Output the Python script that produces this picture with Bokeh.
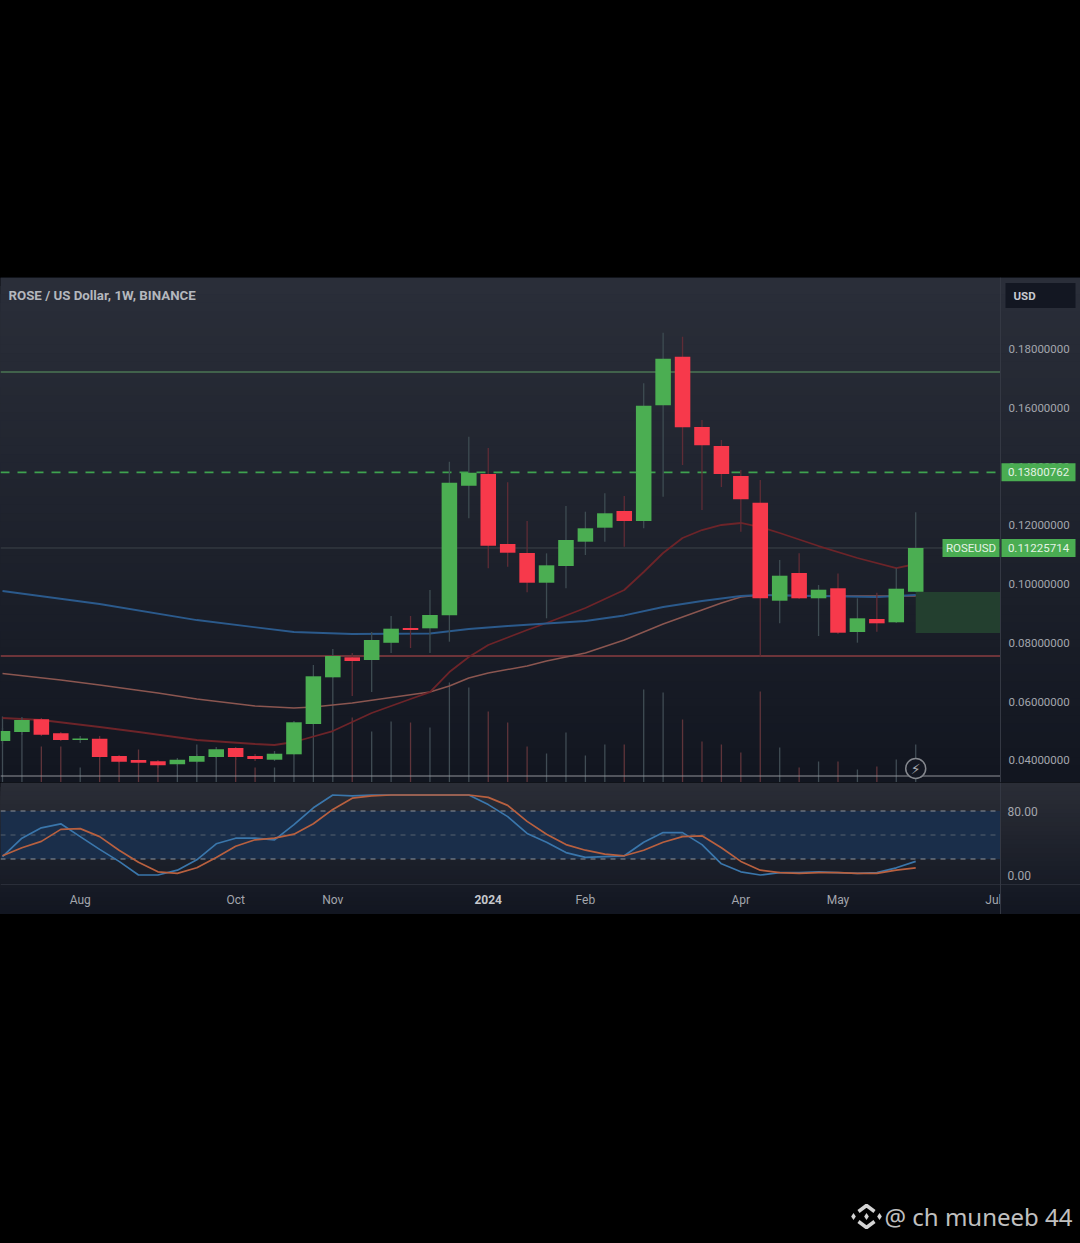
from bokeh.plotting import figure
from bokeh.models import (ColumnDataSource, FixedTicker, LinearAxis, NumeralTickFormatter,
                          Range1d, Spacer, Label)
from bokeh.layouts import column
from bokeh.embed import file_html
from bokeh.resources import INLINE
from bokeh.core.properties import value
import numpy as np

# ---------- data ----------
opens = [.04655,.04962,.05394,.04917,.04689,.04733,.04144,.04008,.03964,.03862,.03950,.04110,
         .04417,.04144,.04018,.04202,.05234,.06823,.07504,.07413,.07999,.08502,.08491,.08934,
         .13347,.13745,.11361,.11055,.10044,.10613,.11440,.11917,.12485,.12145,.16084,.17738,
         .15345,.14698,.13677,.12767,.09431,.10374,.09513,.09854,.08366,.08808,.08696,.09735]
highs = [.05098,.05472,.05438,.04962,.04826,.04826,.04178,.04042,.04008,.04076,.04212,.04451,
         .04451,.04212,.04315,.05336,.07243,.07787,.07651,.08366,.08910,.08910,.09796,.14163,
         .15014,.14630,.13462,.12145,.11044,.12655,.12461,.13088,.12996,.16832,.18555,.18419,
         .15583,.14902,.13881,.13540,.10817,.11044,.09966,.10360,.09513,.09703,.10534,.12441]
lows  = [.04553,.04859,.04826,.04655,.04587,.04076,.03906,.03872,.03736,.03804,.03906,.04076,
         .04008,.03974,.03974,.04178,.05200,.06800,.06187,.06322,.07651,.07821,.07651,.08036,
         .12236,.10534,.10589,.09717,.08832,.09854,.10987,.11440,.11270,.11896,.12972,.14051,
         .12519,.13302,.11780,.07523,.08661,.09489,.08230,.08298,.08002,.08377,.08672,.09728]
closes= [.04995,.05370,.04870,.04689,.04740,.04110,.03950,.03916,.03827,.04018,.04144,.04372,
         .04110,.04042,.04222,.05292,.06858,.07549,.07378,.08094,.08479,.08434,.08945,.13449,
         .13789,.11303,.11065,.10044,.10636,.11498,.11896,.12407,.12145,.16070,.17670,.15335,
         .14722,.13745,.12884,.09513,.10282,.09513,.09806,.08342,.08832,.08662,.09840,.11225]
volumes = [66,63,36,36,15,26,22,33,18,18,38,26,25,15,15,28,58,106,65,51,61,60,55,100,95,71,60,
           36,29,50,27,38,38,93,90,63,41,38,30,91,35,15,21,21,13,16,23,38]

ma_blue_i = [0,5,10,15,18,22,24,26,28,30,32,34,36,38,39,42,45,47]
ma_blue = [.09762,.09319,.08774,.08366,.08298,.08315,.08468,.08570,.08655,.08740,.08928,.09217,
           .09421,.09591,.09625,.09591,.09557,.09625]
ma_pale_i = [0,3,5,8,10,13,15,16,18,22,23,24,25,27,28,30,32,34,36,37,38,39,42,47]
ma_pale = [.06953,.06731,.06561,.06289,.06085,.05847,.05779,.05813,.05949,.06322,.06527,.06800,
           .06970,.07208,.07378,.07651,.08094,.08638,.09115,.09353,.09557,.09625,.09591,.09591]
ma_red_i = [0,2,5,7,10,13,14,15,17,18,19,21,22,23,24,25,27,28,30,32,33,34,35,36,37,38,39,40,42,44,46,47]
ma_red = [.05438,.05370,.05132,.04962,.04689,.04553,.04519,.04621,.04995,.05302,.05608,.06085,
          .06322,.07003,.07514,.07923,.08434,.08672,.09183,.09796,.10409,.11055,.11566,.11838,
          .12009,.12077,.11940,.11736,.11293,.10885,.10544,.10681]

stoch_k = [23,46,59,64,48,32,17,0,0,6,19,39,46,46,44,63,84,100,99,100,100,100,100,100,100,88,73,
           52,41,28,22,23,24,41,53,53,38,14,4,0,3,3,4,3,2,3,9,17]
stoch_d = [24,34,42,57,58,48,31,16,4,2,9,22,36,44,46,51,64,82,96,99,100,100,100,100,100,97,87,
           67,51,38,31,26,24,31,41,48,49,34,17,6,3,2,3,3,2,2,6,9]

month_ticks = [4,12,17,30,38,43,51]
month_labels = ["Aug","Oct","Nov","Feb","Apr","May","Jul"]
year_ticks = [25]
year_labels = ["2024"]
price_ticks = [.04,.06,.08,.10,.12,.14,.16,.18]
stoch_ticks = [0,80]

resistance = 0.17217
support = 0.07549
dashed_level = 0.13800762
last_price = 0.11225714
base_level = 0.03463
zone_top, zone_bottom = 0.09728, 0.08332

# ---------- layout helpers ----------
PX0, PX_STEP = 2.0, 19.43
def xi(px):
    return (px - PX0) / PX_STEP
X_START, PANE_END, X_END = xi(0), xi(1000), xi(1081)
PRICE_PER_PX = 0.02 / 58.75
def price_at(px):
    return 0.18 - (px - 349.5) * PRICE_PER_PX

def lerp(c0, c1, t):
    a, b = np.array(c0), np.array(c1)
    r = a + (b - a) * t
    return "#%02x%02x%02x" % tuple(int(round(v)) for v in r)

def gradient(p, lo, hi, top, bottom, n=60):
    edges = np.linspace(hi, lo, n + 1)
    colors = [lerp(top, bottom, k / (n - 1)) for k in range(n)]
    p.quad(left=X_START - 1, right=X_END + 1, top=edges[:-1], bottom=lo - (hi - lo),
           fill_color=colors, line_color=None)

FONT = "Roboto"
LABEL = "#a3a6ad"
GREEN, RED = "#4bae52", "#f7394b"
x_range = Range1d(X_START, X_END)

# ---------- price pane ----------
y_lo, y_hi = price_at(783), price_at(278)
p = figure(width=1081, height=505, x_range=x_range, y_range=Range1d(y_lo, y_hi),
           x_axis_type=None, y_axis_type=None, toolbar_location=None, output_backend="svg",
           min_border=0, outline_line_color=None, background_fill_color="#131722",
           border_fill_color="#000000")
p.grid.visible = False
gradient(p, y_lo, y_hi, (42, 46, 57), (18, 22, 32))

# volume bars on their own scale
p.extra_y_ranges["volume"] = Range1d(0, 505)
idx = list(range(len(opens)))
up = [c >= o for o, c in zip(opens, closes)]
p.segment(idx, [0] * len(idx), idx, volumes, y_range_name="volume",
          line_color=["#404c54" if u else "#5f343a" for u in up], line_width=1.3)

# horizontal levels
p.line([X_START, PANE_END], [base_level] * 2, line_color="#8f9298", line_width=1.2)
p.line([X_START, PANE_END], [resistance] * 2, line_color="#5c9a62", line_width=1)
p.line([X_START, PANE_END], [support] * 2, line_color="#8a3d41", line_width=1.6)
p.line([X_START, PANE_END], [last_price] * 2, line_color="#3d434b", line_width=1)
p.line([X_START, PANE_END], [dashed_level] * 2, line_color="#3fa24f", line_width=1.8,
       line_dash="9 8")

# zone
p.quad(left=[idx[-1]], right=[PANE_END], top=[zone_top], bottom=[zone_bottom],
       fill_color="#233f2f", line_color=None)

# moving averages
p.line(ma_pale_i, ma_pale, line_color="#8b5650", line_width=1.5)
p.line(ma_red_i, ma_red, line_color="#6d2429", line_width=1.8)
p.line(ma_blue_i, ma_blue, line_color="#2b5a8c", line_width=1.8)

# candles
p.segment(idx, highs, idx, lows, line_width=1.3,
          line_color=["#3e4c52" if u else "#5f2c36" for u in up])
p.vbar(x=idx, width=0.8, top=[max(a, b) for a, b in zip(opens, closes)],
       bottom=[min(a, b) for a, b in zip(opens, closes)],
       fill_color=[GREEN if u else RED for u in up], line_color=None)

# price axis
ax = LinearAxis(ticker=FixedTicker(ticks=price_ticks), fixed_location=PANE_END,
                formatter=NumeralTickFormatter(format="0.00000000"))
ax.axis_line_color = "#343843"
ax.major_tick_line_color = None
ax.major_tick_out = 0
ax.major_tick_in = 0
ax.minor_tick_line_color = None
ax.major_label_text_color = LABEL
ax.major_label_text_font = FONT
ax.major_label_text_font_size = "11.5px"
ax.major_label_standoff = 8
p.add_layout(ax, "right")

# tags
tags = ColumnDataSource(dict(
    x=[xi(1038), xi(1038), xi(970.5)],
    y=[dashed_level, last_price, last_price],
    w=[74, 74, 57],
    t=["0.13800762", "0.11225714", "ROSEUSD"]))
p.rect(x="x", y="y", width="w", height=18, width_units="screen", height_units="screen",
       source=tags, fill_color="#4aad52", line_color=None, level="overlay")
p.text(x="x", y="y", text="t", source=tags, text_color="#e4f2e4", text_align="center",
       text_baseline="middle", text_font=value(FONT), text_font_size="11.5px", level="overlay")

# USD box
p.rect(x=[xi(1040)], y=[price_at(296)], width=70, height=25, width_units="screen",
       height_units="screen", fill_color="#131722", line_color=None, level="overlay")
p.text(x=[xi(1013)], y=[price_at(296)], text=["USD"], text_color="#c8cad0", text_align="left",
       text_baseline="middle", text_font=value(FONT), text_font_style="bold",
       text_font_size="11.5px", level="overlay")

# lightning badge
p.scatter(x=[idx[-1]], y=[price_at(769)], size=20, marker="circle", fill_color="#131722",
          line_color="#85888e", line_width=1.5, level="overlay")
p.text(x=[idx[-1]], y=[price_at(769)], text=["\u26a1"], text_color="#a6a9ae", text_align="center",
       text_baseline="middle", text_font=value("DejaVu Sans"), text_font_size="14px", level="overlay")

p.add_layout(Label(x=8, y=487, x_units="screen", y_units="screen",
                   text="ROSE / US Dollar, 1W, BINANCE", text_color="#b4b7bd",
                   text_font=FONT, text_font_size="13.3px", text_font_style="bold",
                   text_baseline="middle"))

# ---------- stochastic pane ----------
PX_PER_UNIT = 0.8
def stoch_at(px):
    return (875.5 - px) / PX_PER_UNIT
s_lo, s_hi = stoch_at(915), stoch_at(783)
s = figure(width=1081, height=132, x_range=x_range, y_range=Range1d(s_lo, s_hi),
           x_axis_type=None, y_axis_type=None, toolbar_location=None, output_backend="svg",
           min_border=0, outline_line_color=None, background_fill_color="#131722",
           border_fill_color="#2a2d36")
s.grid.visible = False
gradient(s, s_lo, s_hi, (42, 45, 54), (18, 22, 33), n=30)
s.quad(left=[X_START], right=[PANE_END], top=[80], bottom=[20], fill_color="#1a2e4a", line_color=None)
for lvl, col in ((80, "#8f949b"), (50, "#54606f"), (20, "#8f949b")):
    s.line([X_START, PANE_END], [lvl, lvl], line_color=col, line_width=1, line_dash="5 5")
s.line(idx, stoch_k, line_color="#3a76ab", line_width=1.7)
s.line(idx, stoch_d, line_color="#b8603f", line_width=1.7)

ay = LinearAxis(ticker=FixedTicker(ticks=stoch_ticks), fixed_location=PANE_END,
                formatter=NumeralTickFormatter(format="0.00"))
ay.axis_line_color = "#343843"
ay.major_tick_line_color = None
ay.major_tick_out = 0
ay.major_tick_in = 0
ay.minor_tick_line_color = None
ay.major_label_text_color = LABEL
ay.major_label_text_font = FONT
ay.major_label_text_font_size = "12px"
ay.major_label_standoff = 7
s.add_layout(ay, "right")

def time_axis(ticks, labels, bold):
    a = LinearAxis(ticker=FixedTicker(ticks=ticks), fixed_location=stoch_at(885),
                   major_label_overrides={t: l for t, l in zip(ticks, labels)})
    a.axis_line_color = "#2a2e39" if not bold else None
    a.major_tick_line_color = None
    a.major_tick_out = 0
    a.major_tick_in = 0
    a.minor_tick_line_color = None
    a.major_label_text_color = LABEL if not bold else "#c6c8cd"
    a.major_label_text_font = FONT
    a.major_label_text_font_size = "12px"
    a.major_label_text_font_style = "bold" if bold else "normal"
    a.major_label_standoff = 10 if bold else 8
    s.add_layout(a, "below")
time_axis(month_ticks, month_labels, False)
time_axis(year_ticks, year_labels, True)

# ---------- watermark strip ----------
w = figure(width=1081, height=328, x_range=Range1d(0, 1081), y_range=Range1d(328, 0),
           x_axis_type=None, y_axis_type=None, toolbar_location=None, output_backend="svg",
           min_border=0, outline_line_color=None, background_fill_color="#000000",
           border_fill_color="#000000")
w.grid.visible = False
LOGO = "#d4d4d4"
w.scatter(x=[853, 879, 866], y=[302, 302, 302], size=[7, 7, 7], marker="diamond",
          fill_color=LOGO, line_color=None)
w.multi_line(xs=[[858, 866, 874], [858, 866, 874]], ys=[[297, 291, 297], [307, 313, 307]],
             line_color=LOGO, line_width=3.5)
w.text(x=[884], y=[302], text=["@ ch muneeb 44"], text_color="#c0c0c0", text_align="left",
       text_baseline="middle", text_font=value("Noto Sans"), text_font_size="24px")

layout = column(Spacer(width=1081, height=277), p, s, w, spacing=0)
html = file_html(layout, INLINE)
html = html.replace("<head>", "<head><style>html,body{margin:0;padding:0;background:#000;overflow:hidden}body{margin-left:-1px}</style>", 1)
open("out.html", "w").write(html)
